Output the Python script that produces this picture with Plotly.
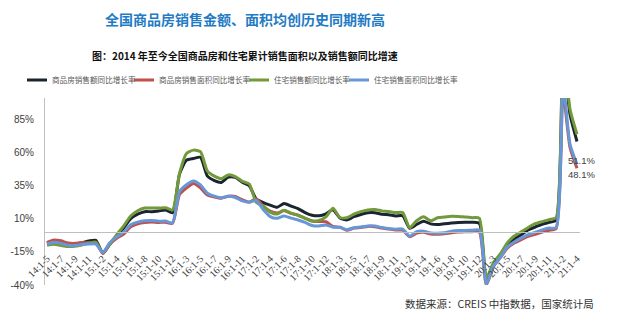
import plotly.graph_objects as go

years = {14: range(5, 13), 15: range(2, 13), 16: range(2, 13), 17: range(2, 13),
         18: range(2, 13), 19: range(2, 13), 20: range(2, 13), 21: range(2, 5)}
categories = [f"{y}:1-{m}" for y, ms in years.items() for m in ms]

# 商品房销售额同比增长率 (%)
sales_amount = [-8.5, -6.7, -7.6, -8.9, -8.9, -8.1, -6.8, -6.3,
                -15.8, -9.3, -3.0, 3.0, 10.0, 13.4, 15.3, 15.3, 15.8, 16.6, 14.4,
                43.6, 54.1, 55.4, 56.3, 42.1, 38.7, 37.3, 41.3, 41.2, 37.5, 34.8,
                24.8, 22.2, 20.2, 18.6, 21.5, 19.5, 17.6, 14.6, 12.6, 12.2, 13.7,
                16.7, 10.5, 9.1, 11.5, 13.2, 14.5, 14.5, 13.3, 13.0, 12.1, 12.2,
                2.8, 5.6, 8.1, 6.1, 5.6, 6.2, 6.7, 7.1, 7.3, 7.3, 6.5,
                -35.9, -24.7, -18.6, -10.6, -5.4, -2.1, 1.6, 3.7, 5.8, 7.2, 8.7,
                133.4, 88.5, 68.2]
# 商品房销售面积同比增长率 (%)
sales_area = [-7.8, -6.0, -6.7, -8.3, -8.6, -7.9, -8.2, -7.6,
              -16.3, -9.2, -4.8, -1.6, 3.9, 6.1, 7.2, 7.5, 7.2, 7.4, 6.5,
              28.2, 33.1, 36.5, 33.2, 27.9, 26.4, 25.5, 26.9, 26.8, 24.3, 22.5,
              25.1, 19.5, 15.7, 14.3, 16.1, 14.0, 12.7, 10.3, 8.2, 7.9, 7.7,
              4.1, 3.6, 1.3, 2.9, 3.3, 4.2, 4.0, 2.9, 2.2, 1.4, 1.3,
              -3.6, -0.9, -0.3, -1.6, -1.8, -1.3, -0.6, -0.1, 0.1, 0.2, -0.1,
              -39.9, -26.3, -19.3, -12.3, -8.4, -5.8, -3.3, -1.8, 0.0, 1.3, 2.6,
              104.9, 63.8, 48.1]
# 住宅销售额同比增长率 (%)
res_amount = [-10.0, -9.2, -10.2, -11.0, -10.8, -9.9, -8.4, -7.8,
              -15.6, -9.1, -2.0, 4.6, 12.0, 16.0, 18.0, 18.0, 18.0, 18.3, 16.6,
              44.2, 59.2, 61.7, 60.6, 45.8, 42.1, 40.2, 43.0, 41.8, 38.2, 36.1,
              22.4, 19.5, 15.0, 13.5, 16.4, 14.2, 12.6, 10.4, 8.3, 8.6, 11.3,
              17.9, 10.9, 10.7, 13.4, 15.3, 16.6, 16.9, 15.9, 15.4, 14.6, 14.7,
              3.2, 8.4, 11.4, 8.4, 10.7, 11.2, 11.9, 11.7, 11.2, 10.8, 10.3,
              -34.7, -23.4, -16.6, -8.2, -3.1, 0.1, 3.4, 6.2, 7.8, 9.3, 10.8,
              138.6, 92.5, 73.7]
# 住宅销售面积同比增长率 (%)
res_area = [-9.2, -7.8, -8.6, -10.0, -10.3, -9.5, -9.1, -9.1,
            -15.5, -8.2, -3.7, -0.2, 5.5, 7.4, 8.5, 8.7, 8.1, 8.2, 6.9,
            30.4, 35.6, 38.5, 35.5, 29.2, 27.0, 25.8, 26.9, 26.0, 23.4, 22.4,
            23.7, 16.9, 11.6, 10.3, 12.1, 10.4, 9.0, 7.2, 4.9, 4.5, 5.3,
            3.6, 3.5, 1.7, 3.2, 3.7, 4.5, 4.5, 3.3, 2.6, 2.1, 2.2,
            -3.2, 0.2, 0.6, -0.7, -1.0, -0.6, 0.6, 1.0, 1.1, 1.3, 1.5,
            -39.2, -25.9, -19.3, -11.4, -7.6, -4.7, -2.1, -0.3, 1.5, 2.9, 3.2,
            111.3, 66.1, 51.1]

series_names = ["商品房销售额同比增长率", "商品房销售面积同比增长率",
                "住宅销售额同比增长率", "住宅销售面积同比增长率"]
series_values = [sales_amount, sales_area, res_amount, res_area]
series_colors = ["#1b2431", "#c0504d", "#72993a", "#6797d6"]

y_ticks = [-40, -15, 10, 35, 60, 85]
y_ticktext = [f"{v}%" for v in y_ticks]
y_min, y_max = -40, 101

W, H = 641, 313
legend_ids = ["legend", "legend2", "legend3", "legend4"]
legend_x_px = [27, 134, 249, 349]

fig = go.Figure()
for name, vals, col, lid in zip(series_names, series_values, series_colors, legend_ids):
    fig.add_trace(go.Scatter(x=categories, y=vals, mode="lines", name=name, legend=lid,
                             line=dict(color=col, width=3, shape="spline", smoothing=0.6)))

fig.add_annotation(x=categories[-1], y=res_area[-1], text=f"{res_area[-1]}%",
                   showarrow=False, xshift=4, yshift=4,
                   font=dict(size=9.5, color="#404040", family="Liberation Sans"))
fig.add_annotation(x=categories[-1], y=sales_area[-1], text=f"{sales_area[-1]}%",
                   showarrow=False, xshift=4, yshift=-6,
                   font=dict(size=9.5, color="#404040", family="Liberation Sans"))

fig.add_annotation(text="<b>全国商品房销售金额、面积均创历史同期新高</b>", xref="paper", yref="paper",
                   x=0.374, y=1, yshift=79, showarrow=False, xanchor="center", yanchor="middle",
                   font=dict(size=14, color="#1f7bc4", family="Noto Sans CJK SC"))
fig.add_annotation(text="<b>图：2014 年至今全国商品房和住宅累计销售面积以及销售额同比增速</b>",
                   xref="paper", yref="paper", x=0.374, y=1, yshift=43, showarrow=False,
                   xanchor="center", yanchor="middle",
                   font=dict(size=10, color="#111111", family="Noto Sans CJK SC"))
fig.add_annotation(text="数据来源：CREIS 中指数据，国家统计局",
                   xref="paper", yref="paper", x=1.03, y=0, yshift=-18, showarrow=False,
                   xanchor="right", yanchor="middle",
                   font=dict(size=10.5, color="#333333", family="Noto Sans CJK SC"))

zero_frac = (0 - y_min) / (y_max - y_min)

legend_style = dict(orientation="h", xref="container", yref="container", xanchor="left",
                    y=1 - 80 / H, yanchor="middle",
                    font=dict(size=7.6, color="#595959", family="Noto Sans CJK SC"),
                    itemwidth=30, indentation=-15, bgcolor="rgba(0,0,0,0)")

fig.update_layout(
    width=W, height=H,
    margin=dict(l=45, r=61, t=98, b=28, autoexpand=False),
    paper_bgcolor="white", plot_bgcolor="white",
    showlegend=True,
    xaxis=dict(type="category", range=[-0.29, 76.43], anchor="free",
               position=zero_frac, showline=True, linecolor="#bfbfbf", linewidth=1.2,
               tickmode="array", tickvals=categories[::2], ticktext=categories[::2],
               tickangle=-45, ticks="outside", ticklen=16, tickcolor="rgba(0,0,0,0)",
               tickfont=dict(size=10, color="#404040", family="Liberation Sans Narrow"),
               showgrid=False, zeroline=False),
    yaxis=dict(range=[y_min, y_max], tickmode="array", tickvals=y_ticks, ticktext=y_ticktext,
               showline=True, linecolor="#bfbfbf", linewidth=1.2,
               showgrid=False, zeroline=False, ticks="outside", ticklen=8,
               tickcolor="rgba(0,0,0,0)",
               tickfont=dict(size=10, color="#404040", family="Liberation Sans")),
)
for lid, xp in zip(legend_ids, legend_x_px):
    fig.update_layout({lid: dict(legend_style, x=xp / W)})

fig.write_html("out.html")
